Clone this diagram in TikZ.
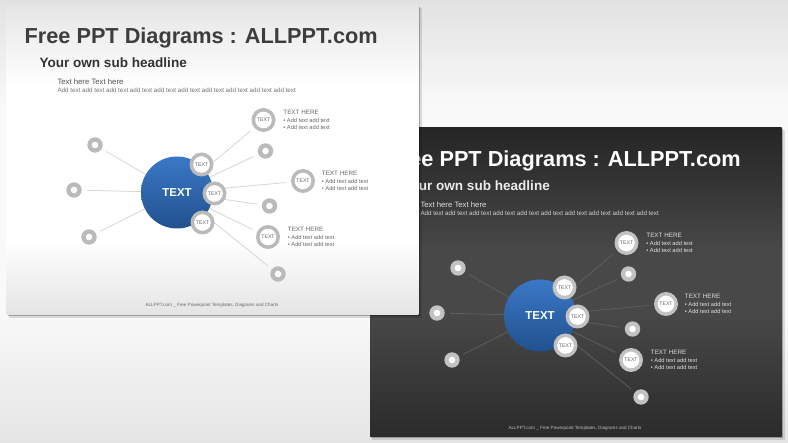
\documentclass[tikz,border=0pt]{standalone}
\usepackage{fontspec}
\setmainfont{Liberation Sans}
\usetikzlibrary{positioning}

\definecolor{pgtop}{HTML}{E2E2E2}
\definecolor{pgmid}{HTML}{F9F9F9}
\definecolor{pgbot}{HTML}{E5E5E5}
\definecolor{wstop}{HTML}{E6E6E6}
\definecolor{wsbot}{HTML}{E4E4E4}
\definecolor{dstop}{HTML}{252525}
\definecolor{dsmid}{HTML}{484848}
\definecolor{dsbot}{HTML}{2B2B2B}
\definecolor{hubtop}{HTML}{3A78C6}
\definecolor{hubbot}{HTML}{21518E}

\pgfdeclareverticalshading{pagebg}{100bp}{color(0bp)=(pgbot); color(25bp)=(pgbot); color(40bp)=(pgmid); color(63bp)=(pgmid); color(75bp)=(pgtop); color(100bp)=(pgtop)}
\pgfdeclareverticalshading{whiteslide}{100bp}{color(0bp)=(wsbot); color(25bp)=(wsbot); color(37bp)=(white); color(62bp)=(white); color(75bp)=(wstop); color(100bp)=(wstop)}
\pgfdeclareverticalshading{darkslide}{100bp}{color(0bp)=(dsbot); color(25bp)=(dsbot); color(45bp)=(dsmid); color(55bp)=(dsmid); color(75bp)=(dstop); color(100bp)=(dstop)}

\pgfdeclarelayer{darklines}
\pgfdeclarelayer{darkfront}
\pgfdeclarelayer{whiteback}
\pgfdeclarelayer{whitelines}
\pgfdeclarelayer{whitefront}
\pgfsetlayers{main,darklines,darkfront,whiteback,whitelines,whitefront}

\tikzstyle{headline} = [anchor=base west, inner sep=0pt, text=headcol,
font=\bfseries\fontsize{21.7}{26}\selectfont]
\tikzstyle{subline} = [anchor=base west, inner sep=0pt, text=subcol,
font=\bfseries\fontsize{13.55}{16}\selectfont]
\tikzstyle{introline} = [anchor=base west, inner sep=0pt, text=introcol,
font=\fontsize{7.75}{9}\selectfont]
\tikzstyle{bodyline} = [anchor=base west, inner sep=0pt, text=bodycol,
font=\fontsize{6.24}{7}\selectfont]
\tikzstyle{footline} = [anchor=base, inner sep=0pt, text=footcol,
font=\fontsize{4.57}{5}\selectfont]
\tikzstyle{hubnode} = [circle, minimum size=72pt, inner sep=0pt,
top color=hubtop, bottom color=hubbot, text=white,
font=\bfseries\fontsize{11.5}{12}\selectfont]
\tikzstyle{textring} = [circle, fill=ringcol, minimum size=24pt, inner sep=0pt,
path picture={\fill [white] (path picture bounding box.center) circle (8.3pt);},
text=black!60, font=\fontsize{5.2}{6}\selectfont]
\tikzstyle{dotring} = [circle, fill=ringcol, minimum size=15.4pt, inner sep=0pt,
path picture={\fill [white] (path picture bounding box.center) circle (3.3pt);}]
\tikzstyle{spoke} = [draw=linecol, line width=0.8pt, shorten >=5pt]
\tikzstyle{note} = [inner sep=0pt, align=left, text=notecol,
font=\fontsize{5.7}{7.4}\selectfont]

\newcommand{\notetext}{{\fontsize{6.3}{7.4}\selectfont TEXT HERE}\\
\textbullet\ Add text add text\\ \textbullet\ Add text add text}

\newcommand{\slidebody}[2]{%
\begin{pgfonlayer}{#2front}
\node (#1title) [headline] at (24.5,43.5) {Free PPT Diagrams : ALLPPT.com};
\node (#1sub) [subline] at (39.3,67.7) {Your own sub headline};
\node (#1intro) [introline] at (57.3,84.3) {Text here Text here};
\node (#1body) [bodyline] at (57.3,92.3) {Add text add text add text add text add text add text add text add text add text add text};

\node (#1hub) [hubnode] at (177,192.5) {TEXT};
\node (#1ta) [textring] at (201.5,164.5) {TEXT};
\node (#1tb) [textring] at (214.5,193.5) {TEXT};
\node (#1tc) [textring] at (202.5,222.5) {TEXT};

\node (#1oa) [textring] at (263.5,120) {TEXT};
\node (#1ob) [textring] at (303,181) {TEXT};
\node (#1oc) [textring] at (268,237) {TEXT};

\node (#1sa) [dotring] at (265.5,151) {};
\node (#1sb) [dotring] at (269.5,206) {};
\node (#1sc) [dotring] at (278,274) {};
\node (#1sd) [dotring] at (95,145) {};
\node (#1se) [dotring] at (74,190) {};
\node (#1sf) [dotring] at (89,237) {};

\node (#1na) [note, right=7.5pt of #1oa] {\notetext};
\node (#1nb) [note, right=6.5pt of #1ob] {\notetext};
\node (#1nc) [note, right=7.5pt of #1oc] {\notetext};

\node (#1foot) [footline] at (212,306.5) {ALLPPT.com \_ Free Powerpoint Templates, Diagrams and Charts};
\end{pgfonlayer}
\begin{pgfonlayer}{#2lines}
\draw [spoke] (#1hub) -- (#1oa);
\draw [spoke] (#1hub) -- (#1ob);
\draw [spoke] (#1hub) -- (#1oc);
\draw [spoke] (#1hub) -- (#1sa);
\draw [spoke] (#1hub) -- (#1sb);
\draw [spoke] (#1hub) -- (#1sc);
\draw [spoke] (#1hub) -- (#1sd);
\draw [spoke] (#1hub) -- (#1se);
\draw [spoke] (#1hub) -- (#1sf);
\end{pgfonlayer}}

\begin{document}
\begin{tikzpicture}[x=1pt, y=-1pt]
\useasboundingbox (0,0) rectangle (788,443);
\shade [shading=pagebg] (0,0) rectangle (788,443);

% dark slide, behind
\fill [black, opacity=0.12] (372,130) rectangle (785,440);
\fill [black, opacity=0.25] (371,129) rectangle (783,438);
\shade [shading=darkslide] (370,128) rectangle (781.5,436.5);
\begin{scope}[shift={(363,123)}]
\colorlet{headcol}{white}
\colorlet{subcol}{black!8}
\colorlet{introcol}{black!12}
\colorlet{bodycol}{black!18}
\colorlet{footcol}{black!25}
\colorlet{notecol}{black!12}
\colorlet{ringcol}{black!24}
\colorlet{linecol}{black!63}
\slidebody{d}{dark}
\end{scope}

% white slide, in front
\begin{pgfonlayer}{whiteback}
\fill [black, opacity=0.12] (8.7,7.7) rectangle (421.5,318.5);
\fill [black, opacity=0.25] (7.7,6.7) rectangle (419.8,316.5);
\shade [shading=whiteslide] (6.7,5.7) rectangle (418.3,315);
\end{pgfonlayer}
\begin{scope}
\colorlet{headcol}{black!76}
\colorlet{subcol}{black!80}
\colorlet{introcol}{black!68}
\colorlet{bodycol}{black!55}
\colorlet{footcol}{black!60}
\colorlet{notecol}{black!60}
\colorlet{ringcol}{black!27}
\colorlet{linecol}{black!16}
\slidebody{w}{white}
\end{scope}

\end{tikzpicture}
\end{document}
